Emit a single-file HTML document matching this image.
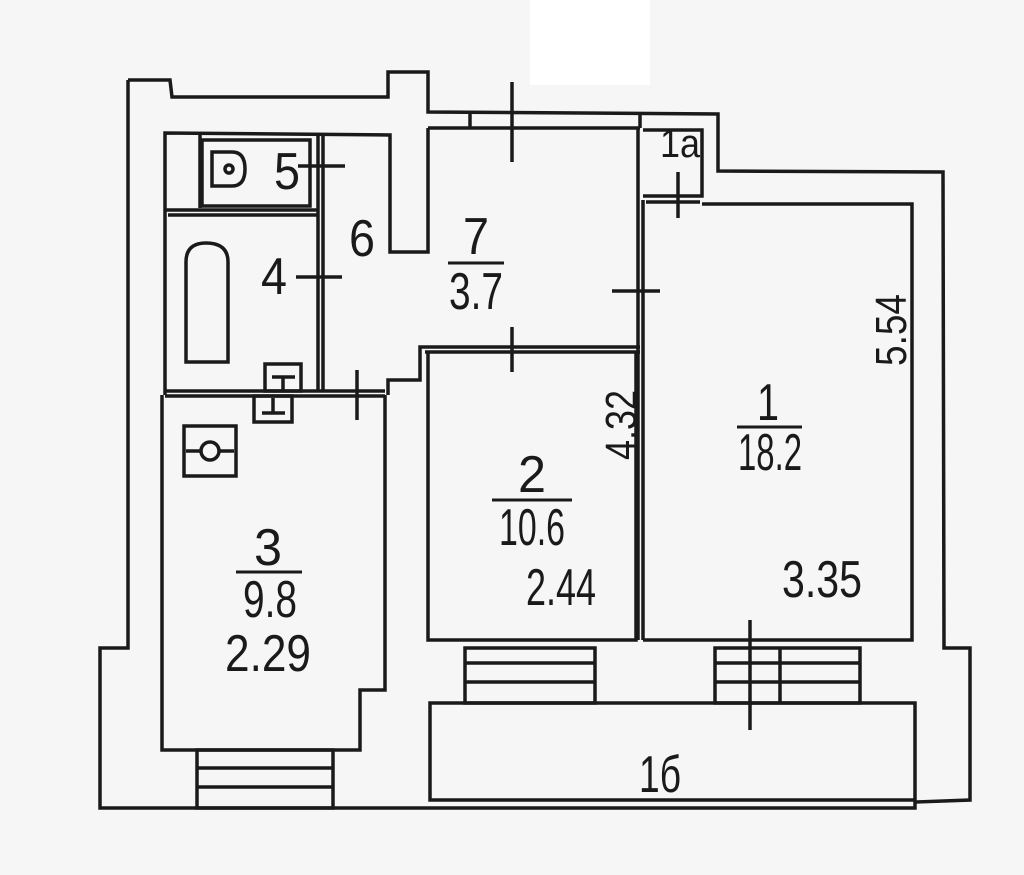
<!DOCTYPE html>
<html><head><meta charset="utf-8"><style>
html,body{margin:0;padding:0;background:#f6f6f6;}
svg{display:block}
text{font-family:"Liberation Sans",sans-serif;fill:#1a1a1a;}
</style></head><body>
<svg width="1024" height="875" viewBox="0 0 1024 875" xmlns="http://www.w3.org/2000/svg">
<rect width="1024" height="875" fill="#f6f6f6"/>
<rect x="530" y="0" width="120" height="85" fill="#fff"/>
<g fill="none" stroke="#1a1a1a" stroke-width="3.5" stroke-linejoin="miter">
<polyline points="128,80 170,80 172,97 388,97 388,72 428,72 428,112 718,114 718,171 943,172 944,648 970,648 970,800 915,802 915,808 100,808 100,648 128,648 128,80"/>
<polyline points="428,128 640,128"/>
<line x1="470" y1="112" x2="470" y2="128"/>
<line x1="640" y1="112" x2="640" y2="128"/>
<polyline points="165,395 165,133 390,135 390,252 428,252 428,128"/>
<line x1="200" y1="135" x2="200" y2="208"/>
<rect x="202" y="140" width="108" height="66"/>
<line x1="165" y1="210" x2="318" y2="210"/>
<line x1="168" y1="215" x2="318" y2="215"/>
<line x1="318" y1="135" x2="318" y2="392"/>
<line x1="323" y1="135" x2="323" y2="392"/>
<path d="M186,362 L186,262 Q186,243 206,243 Q228,243 228,262 L228,362 Z"/>
<line x1="165" y1="391" x2="385" y2="391"/>
<line x1="165" y1="396" x2="385" y2="396"/>
<rect x="265" y="364" width="36" height="27"/>
<rect x="254" y="396" width="38" height="26"/>
<line x1="272" y1="377" x2="295" y2="377"/><line x1="283" y1="377" x2="283" y2="390"/>
<line x1="262" y1="413" x2="285" y2="413"/><line x1="273" y1="398" x2="273" y2="413"/>
<rect x="184" y="426" width="52" height="50"/>
<circle cx="210" cy="451" r="9"/>
<line x1="186" y1="451" x2="201" y2="451"/><line x1="219" y1="451" x2="234" y2="451"/>
<circle cx="229" cy="169" r="4"/>
<path d="M212,152 L212,186 L232,186 Q245,186 245,169 Q245,152 232,152 Z"/>
<polyline points="162,395 162,750 360,750 360,690 385,690 385,395"/>
<polyline points="388,395 388,380 420,380 420,347 640,347"/>
<line x1="425" y1="352" x2="640" y2="352"/>
<polyline points="428,352 428,640 636,640 636,352"/>
<line x1="638" y1="128" x2="638" y2="640"/>
<line x1="643" y1="200" x2="643" y2="640"/>
<polyline points="643,130 702,130 702,196 643,196"/>
<line x1="646" y1="202" x2="700" y2="202"/>
<polyline points="643,640 912,640 912,204 702,204"/>
<rect x="465" y="648" width="130" height="55"/>
<line x1="465" y1="663" x2="595" y2="663"/><line x1="465" y1="682" x2="595" y2="682"/>
<rect x="715" y="648" width="145" height="55"/>
<line x1="715" y1="663" x2="860" y2="663"/><line x1="715" y1="682" x2="860" y2="682"/>
<line x1="780" y1="648" x2="780" y2="703"/>
<rect x="197" y="750" width="136" height="58"/>
<line x1="197" y1="768" x2="333" y2="768"/><line x1="197" y1="787" x2="333" y2="787"/>
<rect x="430" y="703" width="485" height="97"/>
<line x1="512" y1="82" x2="512" y2="162"/>
<line x1="678" y1="172" x2="678" y2="218"/>
<line x1="612" y1="291" x2="660" y2="291"/>
<line x1="512" y1="327" x2="512" y2="372"/>
<line x1="357" y1="370" x2="357" y2="420"/>
<line x1="298" y1="166" x2="345" y2="166"/>
<line x1="296" y1="277" x2="342" y2="277"/>
<line x1="750" y1="620" x2="750" y2="730"/>
</g>
<g font-size="52">
<text x="287" y="189" text-anchor="middle" textLength="26" lengthAdjust="spacingAndGlyphs">5</text>
<text x="362" y="256" text-anchor="middle" textLength="26" lengthAdjust="spacingAndGlyphs">6</text>
<text x="274" y="294" text-anchor="middle" textLength="26" lengthAdjust="spacingAndGlyphs">4</text>
<text x="476" y="254" text-anchor="middle" textLength="26" lengthAdjust="spacingAndGlyphs">7</text>
<text x="476" y="309" text-anchor="middle" textLength="54" lengthAdjust="spacingAndGlyphs">3.7</text>
<text x="680" y="157" text-anchor="middle" font-size="40" textLength="40" lengthAdjust="spacingAndGlyphs">1а</text>
<text x="768" y="420" text-anchor="middle" textLength="22" lengthAdjust="spacingAndGlyphs">1</text>
<text x="770" y="470" text-anchor="middle" textLength="64" lengthAdjust="spacingAndGlyphs">18.2</text>
<text x="532" y="492" text-anchor="middle" textLength="28" lengthAdjust="spacingAndGlyphs">2</text>
<text x="532" y="545" text-anchor="middle" textLength="66" lengthAdjust="spacingAndGlyphs">10.6</text>
<text x="561" y="605" text-anchor="middle" textLength="70" lengthAdjust="spacingAndGlyphs">2.44</text>
<text x="268" y="565" text-anchor="middle" textLength="28" lengthAdjust="spacingAndGlyphs">3</text>
<text x="270" y="617" text-anchor="middle" textLength="54" lengthAdjust="spacingAndGlyphs">9.8</text>
<text x="268" y="671" text-anchor="middle" textLength="86" lengthAdjust="spacingAndGlyphs">2.29</text>
<text x="822" y="597" text-anchor="middle" textLength="80" lengthAdjust="spacingAndGlyphs">3.35</text>
<text x="660" y="792" text-anchor="middle" textLength="42" lengthAdjust="spacingAndGlyphs">1б</text>
<text transform="translate(906,330) rotate(-90)" text-anchor="middle" font-size="44" textLength="72" lengthAdjust="spacingAndGlyphs">5.54</text>
<text transform="translate(636,425) rotate(-90)" text-anchor="middle" font-size="44" textLength="70" lengthAdjust="spacingAndGlyphs">4.32</text>
</g>
<g stroke="#1a1a1a" stroke-width="3">
<line x1="448" y1="263" x2="504" y2="263"/>
<line x1="737" y1="427" x2="802" y2="427"/>
<line x1="492" y1="500" x2="572" y2="500"/>
<line x1="236" y1="572" x2="302" y2="572"/>
</g>
</svg>
</body></html>
